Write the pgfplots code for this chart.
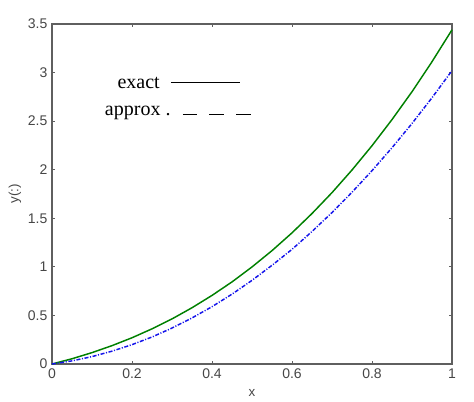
\documentclass[border=0pt]{standalone}
\usepackage{fontspec}
\setmainfont{Liberation Serif}
\setsansfont{Liberation Sans}
\usepackage{pgfplots}
\pgfplotsset{compat=1.18}
\definecolor{axisgray}{RGB}{95,95,95}
\definecolor{labelgray}{RGB}{70,70,70}
\definecolor{exactgreen}{RGB}{0,128,0}
\definecolor{approxblue}{RGB}{20,20,235}

\begin{document}
\begin{tikzpicture}
% page = 474 x 402 px at 0.75pt per px
\path[use as bounding box] (-39pt,-28.5pt) rectangle (316.5pt,273pt);
\begin{axis}[
    scale only axis,
    width=300pt, height=255pt,
    xmin=0, xmax=1, ymin=0, ymax=3.5,
    xtick={0,0.2,...,1}, ytick={0,0.5,...,3.5},
    tick align=inside,
    major tick length=2.5pt,
    axis line style={axisgray, line width=0.8pt},
    tick style={axisgray, line width=0.6pt},
    ticklabel style={font=\sffamily\fontsize{10.5}{12}\selectfont, text=labelgray},
    /pgf/number format/assume math mode=true,
    yticklabel style={/pgf/number format/fixed},
    xticklabel style={/pgf/number format/fixed},
    label style={font=\sffamily\fontsize{10}{12}\selectfont, text=labelgray},
    xlabel={x},
    ylabel={y(:)},
    x label style={at={(axis description cs:0.5,-0.085)}, anchor=center},
    y label style={at={(axis description cs:-0.0925,0.5)}, anchor=center},
    clip=false,
]
% exact
\addplot[exactgreen, line width=1.1pt] coordinates {
 (0,0) (0.05,0.054) (0.1,0.117) (0.15,0.189) (0.2,0.27) (0.25,0.362)
 (0.3,0.464) (0.35,0.579) (0.4,0.706) (0.45,0.845) (0.5,0.999)
 (0.55,1.167) (0.6,1.35) (0.65,1.549) (0.7,1.764) (0.75,1.997)
 (0.8,2.247) (0.85,2.516) (0.9,2.803) (0.95,3.112) (1,3.44)
};
% approx
\addplot[approxblue, line width=1.1pt,
    dash pattern=on 3pt off 1.2pt on 0.8pt off 1.2pt] coordinates {
 (0,0) (0.05,0.032) (0.1,0.076) (0.15,0.132) (0.2,0.199) (0.25,0.278)
 (0.3,0.370) (0.35,0.474) (0.4,0.59) (0.45,0.719) (0.5,0.861)
 (0.55,1.016) (0.6,1.18) (0.65,1.364) (0.7,1.559) (0.75,1.768)
 (0.8,1.99) (0.85,2.226) (0.9,2.476) (0.95,2.741) (1,3.02)
};
% text key
\node[anchor=base east, inner sep=0pt, font=\fontsize{15}{18}\selectfont]
    at (axis cs:0.27,2.841) {exact};
\draw[black, line width=0.8pt] (axis cs:0.297,2.90) -- (axis cs:0.47,2.90);
\node[anchor=base east, inner sep=0pt, font=\fontsize{15}{18}\selectfont]
    at (axis cs:0.297,2.563) {approx .};
\draw[black, line width=0.8pt, dash pattern=on 11pt off 9pt]
    (axis cs:0.327,2.571) -- (axis cs:0.5025,2.571);
\end{axis}
\end{tikzpicture}
\end{document}
